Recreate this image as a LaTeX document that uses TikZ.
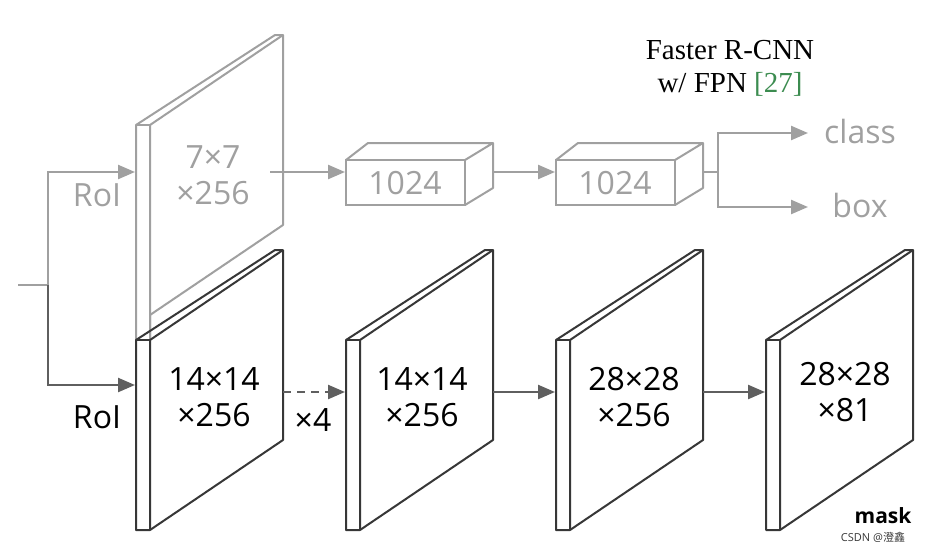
\documentclass[tikz,border=0pt]{standalone}
\usepackage{fontspec}
\setmainfont{Open Sans}
\newfontfamily\serifx{Liberation Serif}
\newfontfamily\cjkx{Noto Sans CJK SC}
\usetikzlibrary{arrows.meta}
\definecolor{lg}{RGB}{160,160,160}
\definecolor{dg}{RGB}{55,55,55}
\definecolor{refg}{RGB}{60,140,80}
\tikzset{
  lbl/.style={font=\fontsize{32}{36}\selectfont, align=center, inner sep=0pt},
  arr/.style={line width=2.4pt, -{Triangle[length=17pt,width=14pt]}},
  ln/.style={line width=2.4pt}
}
\newcommand{\myplane}[4]{% x front-left, y front-top, color, front height
  \fill[white] (#1,#2) -- (#1+14,#2) -- (#1+147,#2-90) -- (#1+147,#2+100) -- (#1+14,#2+#4) -- (#1,#2+#4) -- cycle;
  \draw[#3, line width=2pt, line join=round] (#1,#2+#4) -- (#1,#2) -- (#1+139,#2-90) -- (#1+147,#2-90) -- (#1+147,#2+100) -- (#1+14,#2+190) -- (#1+14,#2+#4) -- cycle;
  \draw[#3, line width=2pt] (#1+14,#2+#4) -- (#1+14,#2) -- (#1+147,#2-90);
  \draw[#3, line width=1.5pt] (#1,#2) -- (#1+14,#2);
}
\newcommand{\mybox}[2]{% x front-left, y front-top
  \draw[lg, line width=2pt, fill=white] (#1,#2) rectangle (#1+119,#2+45);
  \draw[lg, line width=2pt, line join=round] (#1,#2) -- (#1+22,#2-17) -- (#1+147,#2-17) -- (#1+147,#2+28) -- (#1+119,#2+45) (#1+119,#2) -- (#1+147,#2-17);
}
\begin{document}
\begin{tikzpicture}[x=1pt,y=-1pt]
\useasboundingbox (0,0) rectangle (936,552);
% planes
\myplane{136}{125}{lg}{215}
\myplane{136}{340}{dg}{190}
\myplane{346}{340}{dg}{190}
\myplane{556}{340}{dg}{190}
\myplane{766}{340}{dg}{190}
\mybox{346}{160}
\mybox{556}{160}
% texts
\node[lbl, text=lg] (t7) at (213,175) {7×7\\×256};
\node[lbl, text=lg] (b1) at (405,183) {1024};
\node[lbl, text=lg] (b2) at (615,183) {1024};
\node[lbl, text=black] (p1) at (214,397) {14×14\\×256};
\node[lbl, text=black] (p2) at (422,397) {14×14\\×256};
\node[lbl, text=black] (p3) at (634,397) {28×28\\×256};
\node[lbl, text=black] (p4) at (845,392) {28×28\\×81};
\node[lbl, text=lg] (cls) at (860,131) {class};
\node[lbl, text=lg] (bx) at (860,205) {box};
\node[lbl, text=lg] (r1) at (97,195) {RoI};
\node[lbl, text=black] (r2) at (97,417) {RoI};
\node[lbl, text=black] (x4) at (313,420) {×4};
\node[font=\serifx\fontsize{29}{33}\selectfont, align=center, inner sep=0pt] (title) at (730,68) {Faster R-CNN\\w/ FPN \textcolor{refg}{[27]}};
\node[font=\bfseries\fontsize{21}{23}\selectfont, inner sep=0pt] (mask) at (883,516) {mask};
\node[font=\fontsize{11}{12}\selectfont, text=dg, inner sep=0pt] (csdn) at (873,537) {CSDN @{\cjkx 澄鑫}};
% coordinates
\coordinate (in) at (18,285);
\coordinate (sp) at (48,285);
\coordinate (t1) at (48,172);
\coordinate (t2) at (135,172);
\coordinate (u1) at (48,385);
\coordinate (u2) at (135,385);
\coordinate (a1) at (270,172); \coordinate (a2) at (345,172);
\coordinate (a3) at (493,172); \coordinate (a4) at (555,172);
\coordinate (a5) at (703,172); \coordinate (a6) at (718,172);
\coordinate (c1) at (718,133); \coordinate (c2) at (808,133);
\coordinate (d1) at (718,207); \coordinate (d2) at (808,207);
\coordinate (e1) at (283,392); \coordinate (e2) at (345,392);
\coordinate (f1) at (493,392); \coordinate (f2) at (555,392);
\coordinate (g1) at (703,392); \coordinate (g2) at (765,392);
% connectors
\draw[ln, lg] (in) -- (sp);
\draw[arr, lg] (u1) -- (t1) -- (t2);
\draw[arr, dg!80] (sp) -- (u1) -- (u2);
\draw[arr, lg] (a1) -- (a2);
\draw[arr, lg] (a3) -- (a4);
\draw[ln, lg] (a5) -- (a6);
\draw[arr, lg] (d1) -- (c1) -- (c2);
\draw[arr, lg] (a6) -- (d1) -- (d2);
\draw[arr, dg!80, dashed, dash pattern=on 8pt off 6pt] (e1) -- (e2);
\draw[arr, dg!80] (f1) -- (f2);
\draw[arr, dg!80] (g1) -- (g2);
\end{tikzpicture}
\end{document}
